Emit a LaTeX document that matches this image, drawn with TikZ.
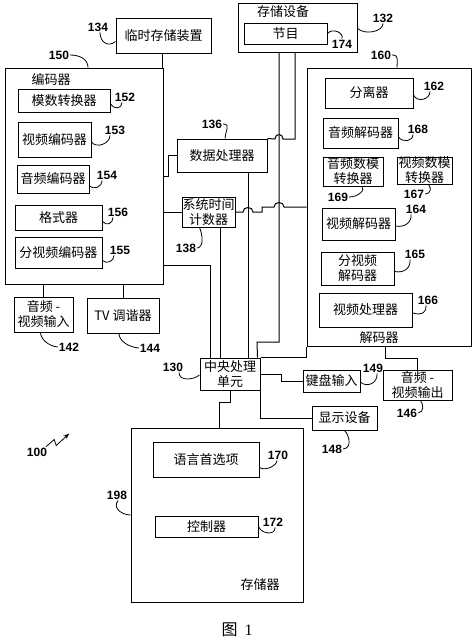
\documentclass[tikz,border=0pt]{standalone}
\usepackage{fontspec}
\setmainfont{Noto Sans CJK SC}
\newfontfamily\lab{Liberation Sans}
\newfontfamily\serifone{Liberation Serif}
\usetikzlibrary{arrows.meta}
\begin{document}
\begin{tikzpicture}[x=1pt,y=-1pt,
  box/.style={draw,line width=1pt,inner sep=0pt,align=center,font=\fontsize{13}{15}\selectfont},
  ttl/.style={inner sep=0pt,align=center,font=\fontsize{13}{15}\selectfont},
  lbl/.style={font=\lab\bfseries\fontsize{12}{12}\selectfont,inner sep=1pt},
  lead/.style={line width=0.8pt},
  wire/.style={line width=1pt}]
\useasboundingbox (0,0) rectangle (474,640);
\fill[white] (0,0) rectangle (474,640);

% ---------- boxes ----------
\node[box,minimum width=95pt,minimum height=35pt] (tmp) at (163.5,35.5) {临时存储装置};
\node[box,minimum width=119pt,minimum height=49pt] (stor) at (297.5,27.5) {};
\node[ttl] (storT) at (283,12) {存储设备};
\node[box,minimum width=83pt,minimum height=21pt] (prog) at (285.5,33.5) {节目};

\node[box,minimum width=158pt,minimum height=216pt] (enc) at (84,176) {};
\node[ttl] (encT) at (51,80) {编码器};
\node[box,minimum width=92pt,minimum height=23pt] (adc) at (64,100.5) {模数转换器};
\node[box,minimum width=73pt,minimum height=35pt] (venc) at (54.5,139.5) {视频编码器};
\node[box,minimum width=72pt,minimum height=28pt] (aenc) at (53,179) {音频编码器};
\node[box,minimum width=87pt,minimum height=25pt] (fmt) at (58.5,217.5) {格式器};
\node[box,minimum width=87pt,minimum height=31pt] (senc) at (58.5,252.5) {分视频编码器};

\node[box,minimum width=90pt,minimum height=33pt] (dp) at (222,155.5) {数据处理器};
\node[box,minimum width=53pt,minimum height=30pt] (stc) at (208.5,212) {系统时间\\计数器};

\node[box,minimum width=164pt,minimum height=278pt] (dec) at (389,207) {};
\node[ttl] (decT) at (379,338) {解码器};
\node[box,minimum width=88pt,minimum height=30pt] (demux) at (369,93) {分离器};
\node[box,minimum width=75pt,minimum height=30pt] (adec) at (360.5,133) {音频解码器};
\node[box,minimum width=60pt,minimum height=29pt] (adac) at (353,171.5) {音频数模\\转换器};
\node[box,minimum width=55pt,minimum height=27pt] (vdac) at (424.5,170.5) {视频数模\\转换器};
\node[box,minimum width=73pt,minimum height=32pt] (vdec) at (358.5,224) {视频解码器};
\node[box,minimum width=73pt,minimum height=33pt] (sdec) at (357.5,268.5) {分视频\\解码器};
\node[box,minimum width=93pt,minimum height=34pt] (vproc) at (365.5,310) {视频处理器};

\node[box,minimum width=59pt,minimum height=35pt] (avin) at (43.5,314.5) {音频 -\\视频输入};
\node[box,minimum width=72pt,minimum height=35pt] (tv) at (123,315.5) {TV 调谐器};
\node[box,minimum width=60pt,minimum height=32pt] (cpu) at (230,374) {中央处理\\单元};
\node[box,minimum width=57pt,minimum height=22pt] (kbd) at (331.5,381) {键盘输入};
\node[box,minimum width=69pt,minimum height=30pt] (avout) at (417.5,385) {音频 -\\视频输出};
\node[box,minimum width=65pt,minimum height=24pt] (disp) at (344.5,418) {显示设备};

\node[box,minimum width=172pt,minimum height=174pt] (mem) at (217,515) {};
\node[ttl] (memT) at (260,585) {存储器};
\node[box,minimum width=106pt,minimum height=35pt] (lang) at (206,459.5) {语言首选项};
\node[box,minimum width=103pt,minimum height=21pt] (ctrl) at (206.5,526.5) {控制器};

% ---------- connectors ----------
\draw[wire] ([xshift=-1.5pt]tmp.south) -- ([xshift=-1.5pt]tmp.south |- enc.north);
\draw[wire] (dp.west) -- ++(-8,0) |- (enc.east);
\draw[wire] (dp.north east) -- (275,139) .. controls (275,133) and (283,133) .. (283,139) -- (295,139) -- ([xshift=-2.5pt]stor.south);
\draw[wire] ([xshift=-18.5pt]stor.south) -- (279,342) -- (257,342) -- ([xshift=-3pt]cpu.north east);
\draw[wire] ([xshift=26pt]dp.south) -- ([xshift=26pt]dp.south |- cpu.north);
\draw[wire] ([xshift=11.5pt]stc.south) -- ([xshift=11.5pt]stc.south |- cpu.north);
\draw[wire] (enc.east |- stc.west) -- (stc.west);
\draw[wire] ([yshift=-89pt]enc.east) -| ([xshift=-20pt]cpu.north);
\draw[wire] (stc.east) -- (243,212) .. controls (243,206) and (253,206) .. (253,212) -- (262,212) -- (262,207) -- (274,207) .. controls (274,201) and (284,201) .. (284,207) -- (dec.west);
\draw[wire] (avin.north |- enc.south) -- (avin.north);
\draw[wire] (tv.north |- enc.south) -- (tv.north);
\draw[wire] (cpu.north east) -| (dec.south west);
\draw[wire] ([xshift=-4pt]dec.south) -- ++(0,12) -| (avout.north);
\draw[wire] (cpu.east) -- (281,374) |- (kbd.west);
\draw[wire] (cpu.east) |- (disp.west);
\draw[wire] (cpu.south) -- ++(0,12) -| ([xshift=2pt]mem.north);

% ---------- reference numbers ----------
\node[lbl] (l134) at (98,27) {134};
\node[lbl] (l132) at (383,18) {132};
\node[lbl] (l174) at (342,44) {174};
\node[lbl] (l150) at (59,55) {150};
\node[lbl] (l152) at (125,97) {152};
\node[lbl] (l153) at (115,130) {153};
\node[lbl] (l154) at (107,175) {154};
\node[lbl] (l156) at (118,212) {156};
\node[lbl] (l155) at (120,250) {155};
\node[lbl] (l136) at (212,124) {136};
\node[lbl] (l138) at (186,248) {138};
\node[lbl] (l160) at (381,55) {160};
\node[lbl] (l162) at (434,86) {162};
\node[lbl] (l168) at (418,129) {168};
\node[lbl] (l169) at (338,197) {169};
\node[lbl] (l167) at (414,194) {167};
\node[lbl] (l164) at (416,209) {164};
\node[lbl] (l165) at (415,254) {165};
\node[lbl] (l166) at (428,300) {166};
\node[lbl] (l142) at (69,347) {142};
\node[lbl] (l144) at (150,348) {144};
\node[lbl] (l130) at (173,367) {130};
\node[lbl] (l149) at (373,368) {149};
\node[lbl] (l146) at (407,413) {146};
\node[lbl] (l148) at (332,449) {148};
\node[lbl] (l198) at (117,495) {198};
\node[lbl] (l170) at (278,455) {170};
\node[lbl] (l172) at (273,522) {172};
\node[lbl] (l100) at (37,452) {100};

% ---------- leaders ----------
\draw[lead] ([xshift=2pt]l134.south) .. controls +(0,10) and +(-7,6) .. ([yshift=-6pt]tmp.west);
\draw[lead] ([yshift=-1pt]stor.east) .. controls +(8,7) and +(0,8) .. (l132.south);
\draw[lead] (prog.east) .. controls +(5,-6) and +(2,-6) .. (l174.north);
\draw[lead] (l150.east) .. controls +(10,0) and +(0,-8) .. ([xshift=4pt]enc.north);
\draw[lead] ([yshift=-3pt]adc.east) .. controls +(4,7) and +(0,6) .. ([xshift=-3pt]l152.south);
\draw[lead] ([yshift=-2.5pt]venc.east) .. controls +(5,7) and +(0,8) .. ([xshift=-5pt]l153.south);
\draw[lead] ([yshift=-7pt]aenc.east) .. controls +(4,4) and +(0,7) .. ([xshift=-5pt]l154.south);
\draw[lead] ([yshift=-4pt]fmt.east) .. controls +(4,5) and +(0,6) .. ([xshift=-5pt]l156.south);
\draw[lead] ([yshift=-8pt]senc.east) .. controls +(4,4) and +(0,6) .. ([xshift=-6pt]l155.south);
\draw[lead] (l136.east) .. controls +(8,0) and +(0,-7) .. ([xshift=3pt]dp.north);
\draw[lead] (l138.east) .. controls +(7,-1) and +(3,7) .. ([xshift=-9pt]stc.south);
\draw[lead] (l160.east) .. controls +(7,0) and +(0,-7) .. ([xshift=8pt]dec.north);
\draw[lead] ([yshift=-2pt]demux.east) .. controls +(4,8) and +(0,8) .. ([xshift=-4pt]l162.south);
\draw[lead] ([yshift=-4pt]adec.east) .. controls +(4,6) and +(0,7) .. ([xshift=-5pt]l168.south);
\draw[lead] (l169.east) .. controls +(9,0) and +(4,3) .. ([xshift=9pt]adac.south);
\draw[lead] (l167.east) .. controls +(6,0) and +(3,3) .. ([xshift=4pt]vdac.south);
\draw[lead] ([yshift=-2pt]vdec.east) .. controls +(10,2) and +(1,7) .. ([xshift=-5pt]l164.south);
\draw[lead] ([yshift=-3pt]sdec.east) .. controls +(10,2) and +(1,8) .. ([xshift=-5pt]l165.south);
\draw[lead] ([yshift=-3pt]vproc.east) .. controls +(10,3) and +(1,6) .. ([xshift=-2pt]l166.south);
\draw[lead] (l142.west) .. controls +(-10,-1) and +(0,6) .. ([xshift=-3pt]avin.south);
\draw[lead] (l144.west) .. controls +(-11,-1) and +(0,7) .. ([xshift=-4pt]tv.south);
\draw[lead] ([xshift=6pt]l130.south) .. controls +(0,9) and +(-6,5) .. ([yshift=-1pt]cpu.west);
\draw[lead] ([yshift=-1pt]kbd.east) .. controls +(6,6) and +(1,10) .. ([xshift=4pt]l149.south);
\draw[lead] (l146.east) .. controls +(6,-1) and +(3,4) .. ([xshift=3pt]avout.south);
\draw[lead] (l148.east) .. controls +(9,-1) and +(5,5) .. (disp.south);
\draw[lead] ([xshift=1pt]l198.south) .. controls +(-6,8) and +(-8,0) .. (mem.west);
\draw[lead] ([yshift=-8pt]lang.east) .. controls +(6,4) and +(0,5) .. ([xshift=-1pt]l170.south);
\draw[lead] (ctrl.east) .. controls +(3,8) and +(1,8) .. ([xshift=2pt]l172.south);
\draw[lead,-{Stealth[length=6pt,width=4.5pt]}] ([xshift=-2pt]l100.north east) -- ++(8,-7) -- ++(2,6) -- ++(13,-12);

% ---------- caption ----------
\node[inner sep=0pt,font=\fontsize{16}{16}\selectfont] (fig) at (237,630) {图\hspace{7pt}{\serifone 1}};
\end{tikzpicture}
\end{document}
